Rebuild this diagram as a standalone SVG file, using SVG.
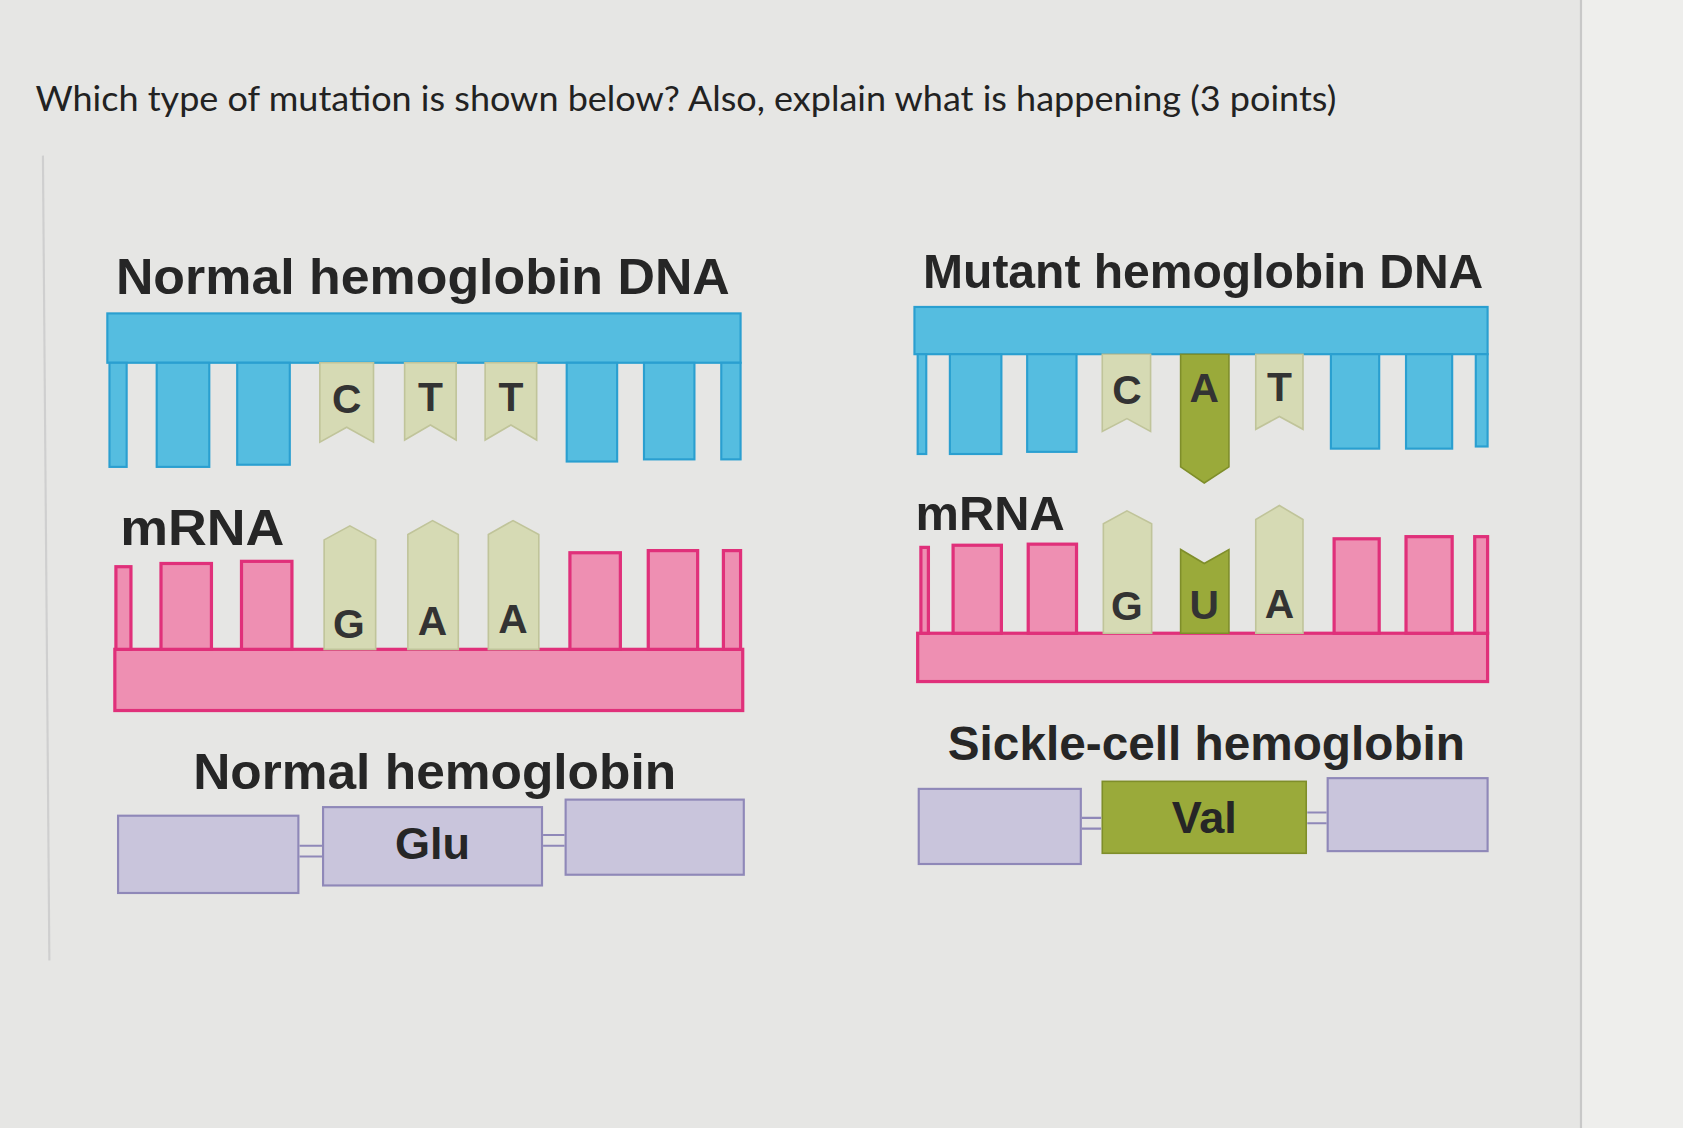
<svg xmlns="http://www.w3.org/2000/svg" width="1683" height="1128" viewBox="0 0 1683 1128">
<defs>
<style>
.t{font-family:"Lato","Open Sans",sans-serif;fill:#222}
.h{font-family:"Liberation Sans",Arial,sans-serif;font-weight:bold;fill:#262626}
.bl{fill:#55bde0;stroke:#2a9fd0;stroke-width:2}
.pk{fill:#ee8fb2;stroke:#e0307a;stroke-width:3}
.gr{fill:#d6dab4;stroke:#c0c49a;stroke-width:1.5}
.ol{fill:#9aaa3a;stroke:#7f8e2a;stroke-width:1.5}
.pr{fill:#c9c5dc;stroke:#8f88b8;stroke-width:2}
.cn{stroke:#8f88b8;stroke-width:2;fill:none}
.lt{font-family:"Liberation Sans",Arial,sans-serif;font-weight:bold;font-size:38px;fill:#333;text-anchor:middle}
</style>
</defs>
<rect width="1683" height="1128" fill="#e6e6e4"/>
<g transform="scale(1.0733)">
<rect x="1474" y="0" width="100" height="1051" fill="#eeeeec"/>
<line x1="1473" y1="0" x2="1473" y2="1051" stroke="#c8c8c8" stroke-width="2"/>
<line x1="40" y1="145" x2="46" y2="895" stroke="#cfcfcf" stroke-width="2"/>
<text class="t" x="33" y="103" font-size="33" textLength="1212" lengthAdjust="spacingAndGlyphs">Which type of mutation is shown below? Also, explain what is happening (3 points)</text>

<g id="normal-dna">
<text class="h" x="108" y="274" font-size="46" textLength="572" lengthAdjust="spacingAndGlyphs">Normal hemoglobin DNA</text>
<rect class="bl" x="100" y="292" width="590" height="46"/>
<rect class="bl" x="102" y="338" width="16" height="97"/>
<rect class="bl" x="146" y="338" width="49" height="97"/>
<rect class="bl" x="221" y="338" width="49" height="95"/>
<rect class="bl" x="528" y="338" width="47" height="92"/>
<rect class="bl" x="600" y="338" width="47" height="90"/>
<rect class="bl" x="672" y="338" width="18" height="90"/>
<path class="gr" d="M298 338H348V412L323 398L298 412Z"/>
<path class="gr" d="M377 338H425V410L401 396L377 410Z"/>
<path class="gr" d="M452 338H500V410L476 396L452 410Z"/>
<text class="lt" x="323" y="385">C</text><text class="lt" x="401" y="383">T</text><text class="lt" x="476" y="383">T</text>
</g>

<g id="normal-mrna">
<text class="h" x="112" y="508" font-size="46" textLength="153" lengthAdjust="spacingAndGlyphs">mRNA</text>
<rect class="pk" x="107" y="605" width="585" height="57"/>
<rect class="pk" x="108" y="528" width="14" height="77"/>
<rect class="pk" x="150" y="525" width="47" height="80"/>
<rect class="pk" x="225" y="523" width="47" height="82"/>
<rect class="pk" x="531" y="515" width="47" height="90"/>
<rect class="pk" x="604" y="513" width="46" height="92"/>
<rect class="pk" x="674" y="513" width="16" height="92"/>
<path class="gr" d="M302 605V503L326 490L350 503V605Z"/>
<path class="gr" d="M380 605V498L403 485L427 498V605Z"/>
<path class="gr" d="M455 605V498L478 485L502 498V605Z"/>
<text class="lt" x="325" y="594">G</text><text class="lt" x="403" y="592">A</text><text class="lt" x="478" y="590">A</text>
</g>

<g id="normal-protein">
<text class="h" x="180" y="735" font-size="46" textLength="450" lengthAdjust="spacingAndGlyphs">Normal hemoglobin</text>
<rect class="pr" x="110" y="760" width="168" height="72"/>
<rect class="pr" x="301" y="752" width="204" height="73"/>
<rect class="pr" x="527" y="745" width="166" height="70"/>
<path class="cn" d="M279 788H300M279 798H300M506 778H526M506 788H526"/>
<text class="h" x="403" y="800" font-size="42" text-anchor="middle">Glu</text>
</g>

<g id="mutant-dna">
<text class="h" x="860" y="268" font-size="45" textLength="522" lengthAdjust="spacingAndGlyphs">Mutant hemoglobin DNA</text>
<rect class="bl" x="852" y="286" width="534" height="44"/>
<rect class="bl" x="855" y="330" width="8" height="93"/>
<rect class="bl" x="885" y="330" width="48" height="93"/>
<rect class="bl" x="957" y="330" width="46" height="91"/>
<rect class="bl" x="1240" y="330" width="45" height="88"/>
<rect class="bl" x="1310" y="330" width="43" height="88"/>
<rect class="bl" x="1375" y="330" width="11" height="86"/>
<path class="gr" d="M1027 330H1072V402L1050 390L1027 402Z"/>
<path class="ol" d="M1100 330H1145V435L1122 450L1100 435Z"/>
<path class="gr" d="M1170 330H1214V400L1192 388L1170 400Z"/>
<text class="lt" x="1050" y="376">C</text><text class="lt" x="1122" y="375">A</text><text class="lt" x="1192" y="374">T</text>
</g>

<g id="mutant-mrna">
<text class="h" x="853" y="494" font-size="45" textLength="139" lengthAdjust="spacingAndGlyphs">mRNA</text>
<rect class="pk" x="855" y="590" width="531" height="45"/>
<rect class="pk" x="858" y="510" width="7" height="80"/>
<rect class="pk" x="888" y="508" width="45" height="82"/>
<rect class="pk" x="958" y="507" width="45" height="83"/>
<rect class="pk" x="1243" y="502" width="42" height="88"/>
<rect class="pk" x="1310" y="500" width="43" height="90"/>
<rect class="pk" x="1374" y="500" width="12" height="90"/>
<path class="gr" d="M1028 590V488L1050 476L1073 488V590Z"/>
<path class="ol" d="M1100 590V512L1122 525L1145 512V590Z"/>
<path class="gr" d="M1170 590V484L1192 471L1214 484V590Z"/>
<text class="lt" x="1050" y="578">G</text><text class="lt" x="1122" y="577">U</text><text class="lt" x="1192" y="576">A</text>
</g>

<g id="sickle-protein">
<text class="h" x="883" y="708" font-size="44" textLength="482" lengthAdjust="spacingAndGlyphs">Sickle-cell hemoglobin</text>
<rect class="pr" x="856" y="735" width="151" height="70"/>
<rect class="ol" x="1027" y="728" width="190" height="67"/>
<rect class="pr" x="1237" y="725" width="149" height="68"/>
<path class="cn" d="M1008 762H1026M1008 772H1026M1218 757H1236M1218 767H1236"/>
<text class="h" x="1122" y="776" font-size="42" text-anchor="middle">Val</text>
</g>
</g>
</svg>
